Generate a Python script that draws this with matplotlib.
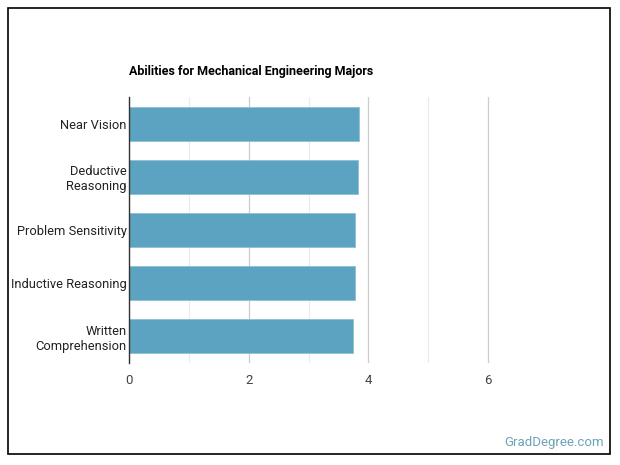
import matplotlib
matplotlib.use('Agg')
import matplotlib.pyplot as plt
from matplotlib.patches import Rectangle

plt.rcParams['font.family'] = ['Roboto', 'DejaVu Sans']

# data
abilities = ['Near Vision', 'Deductive\nReasoning', 'Problem Sensitivity',
             'Inductive Reasoning', 'Written\nComprehension']
scores = [3.85, 3.82, 3.78, 3.78, 3.75]
major_ticks = [0, 2, 4, 6]
minor_ticks = [1, 3, 5]

W, H = 620, 465
fig = plt.figure(figsize=(W / 100, H / 100), dpi=100)

# outer frame
fig.add_artist(Rectangle((8 / W, 1 - 454 / H), 602 / W, 446 / H,
                         transform=fig.transFigure, fill=False,
                         edgecolor='black', linewidth=1.2))

# chart area: x 129.3..547.5 (0..7), y 97..363
ax = fig.add_axes([129.3 / W, 1 - 363 / H, 418.25 / W, 266 / H])
ypos = list(range(len(abilities)))
ax.barh(ypos, scores, height=0.64, color='#5ba3c0', edgecolor='#8cc0d4',
        linewidth=0.6, zorder=3)
ax.set_ylim(len(abilities) - 0.5, -0.5)
ax.set_xlim(0, 7)
ax.set_yticks(ypos)
ax.set_yticklabels(abilities, fontsize=9.3, color='#222222')
ax.set_xticks(major_ticks)
ax.set_xticks(minor_ticks, minor=True)
ax.set_xticklabels([str(t) for t in major_ticks], fontsize=9.5, color='#444444')
ax.tick_params(axis='both', which='both', length=0)
ax.tick_params(axis='x', pad=8)
ax.tick_params(axis='y', pad=2)
ax.grid(axis='x', which='major', color='#cccccc', linewidth=0.9, zorder=0)
ax.grid(axis='x', which='minor', color='#ebebeb', linewidth=0.9, zorder=0)
for side in ['top', 'right', 'bottom']:
    ax.spines[side].set_visible(False)
ax.spines['left'].set_color('#333333')
ax.spines['left'].set_linewidth(1.0)
ax.spines['left'].set_zorder(4)

fig.text(129 / W, 1 - 71 / H, 'Abilities for Mechanical Engineering Majors',
         fontsize=9.0, fontweight='bold', color='black', va='center', ha='left')
fig.text(604 / W, 1 - 442 / H, 'GradDegree.com', fontsize=9.5,
         color='#6aa3b8', va='center', ha='right')

fig.savefig('out.png', dpi=100)
